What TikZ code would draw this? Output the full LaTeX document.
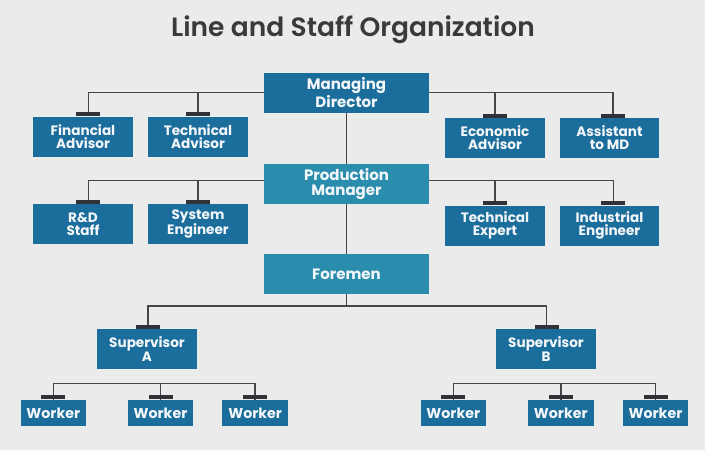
\documentclass[tikz,border=0pt]{standalone}
\usepackage{fontspec}
\setmainfont{Poppins}[BoldFont={Poppins Bold}]
\newfontfamily\titlefont{Poppins SemiBold}
\definecolor{bgc}{HTML}{EBEBEB}
\definecolor{boxblue}{HTML}{1B6D9C}
\definecolor{mainteal}{HTML}{2A8DAE}
\definecolor{linec}{HTML}{454545}
\definecolor{stubc}{HTML}{2F3338}
\definecolor{titlec}{HTML}{3A3A3A}
\definecolor{txt}{HTML}{F4F7F9}
\begin{document}
\begin{tikzpicture}[x=1pt,y=-1pt,
  box/.style={fill=boxblue, text=txt, align=center, inner sep=0pt,
    minimum width=100pt, minimum height=40pt,
    font=\bfseries\fontsize{13.6}{12.8}\selectfont},
  mainbox/.style={box, minimum width=165pt,
    font=\bfseries\fontsize{15}{15}\selectfont},
  teal/.style={fill=mainteal},
  workerbox/.style={box, minimum width=65.5pt, minimum height=26.5pt,
    font=\bfseries\fontsize{14.2}{14}\selectfont},
  stubbar/.style={fill=stubc, inner sep=0pt, minimum width=24pt,
    minimum height=4pt, anchor=south},
  link/.style={draw=linec, line width=1.5pt}]
\fill[bgc] (0,0) rectangle (705,450);
\useasboundingbox (0,0) rectangle (705,450);

\node[text=titlec, font=\titlefont\fontsize{26.5}{26.5}\selectfont] (title) at (353,30) {Line and Staff Organization};

% central column
\node[mainbox] (MD) at (346.5,92.5) {Managing\\Director};
\node[mainbox,teal] (PM) at (346.5,184) {Production\\Manager};
\node[mainbox,teal] (FM) at (346.5,274) {Foremen};

% staff
\node[box] (FA) at (83,136.5) {Financial\\Advisor};
\node[box] (TA) at (198,136.5) {Technical\\Advisor};
\node[box] (EA) at (495,138) {Economic\\Advisor};
\node[box, minimum width=99pt] (AM) at (609.5,138) {Assistant\\to MD};
\node[box] (RD) at (83,224) {R\&D\\Staff};
\node[box] (SE) at (198,224) {System\\Engineer};
\node[box] (TE) at (495,225.5) {Technical\\Expert};
\node[box, minimum width=99pt] (IE) at (609.5,225.5) {Industrial\\Engineer};

% supervisors
\node[box] (SA) at (147,349) {Supervisor\\A};
\node[box] (SB) at (546,349) {Supervisor\\B};

% workers
\node[workerbox] (W1) at (53.3,413) {Worker};
\node[workerbox] (W2) at (160.5,413) {Worker};
\node[workerbox] (W3) at (255.2,413) {Worker};
\node[workerbox] (W4) at (453.3,413) {Worker};
\node[workerbox] (W5) at (560.8,413) {Worker};
\node[workerbox] (W6) at (655.5,413) {Worker};

% line connectors
\draw[link] (MD.south) -- (PM.north);
\draw[link] (PM.south) -- (FM.north);

% staff connectors from MD
\draw[link] (MD.west) -| ([xshift=5.3pt]FA.north);
\draw[link] (MD.west) -| (TA.north);
\draw[link] (MD.east) -| (EA.north);
\draw[link] (MD.east) -| ([xshift=3.5pt]AM.north);
% staff connectors from PM
\draw[link] ([yshift=3.3pt]PM.west) -| ([xshift=5.3pt]RD.north);
\draw[link] ([yshift=3.3pt]PM.west) -| (SE.north);
\draw[link] ([yshift=3.3pt]PM.east) -| (TE.north);
\draw[link] ([yshift=3.3pt]PM.east) -| ([xshift=3.8pt]IE.north);

% foremen to supervisors
\coordinate (fj) at (346.5,306);
\draw[link] (FM.south) -- (fj);
\draw[link] (fj) -| ([xshift=1pt]SA.north);
\draw[link] (fj) -| ([xshift=0.7pt]SB.north);

% worker bars
\coordinate (wa) at (0,383.3);
\draw[link] (W1.north) |- (W3.north |- wa) -- (W3.north);
\draw[link] (W2.north) -- (W2.north |- wa);
\draw[link] (W4.north) |- (W6.north |- wa) -- (W6.north);
\draw[link] (W5.north) -- (W5.north |- wa);

% stubs
\node[stubbar] (sFA) at ([xshift=5.3pt]FA.north) {};
\node[stubbar] (sTA) at (TA.north) {};
\node[stubbar] (sEA) at (EA.north) {};
\node[stubbar] (sAM) at ([xshift=3.5pt]AM.north) {};
\node[stubbar] (sRD) at ([xshift=5.3pt]RD.north) {};
\node[stubbar] (sSE) at (SE.north) {};
\node[stubbar] (sTE) at (TE.north) {};
\node[stubbar] (sIE) at ([xshift=3.8pt]IE.north) {};
\node[stubbar] (sSA) at ([xshift=1pt]SA.north) {};
\node[stubbar] (sSB) at ([xshift=0.7pt]SB.north) {};
\node[stubbar] (sW1) at (W1.north) {};
\node[stubbar] (sW2) at (W2.north) {};
\node[stubbar] (sW3) at (W3.north) {};
\node[stubbar] (sW4) at (W4.north) {};
\node[stubbar] (sW5) at (W5.north) {};
\node[stubbar] (sW6) at (W6.north) {};
\end{tikzpicture}
\end{document}
